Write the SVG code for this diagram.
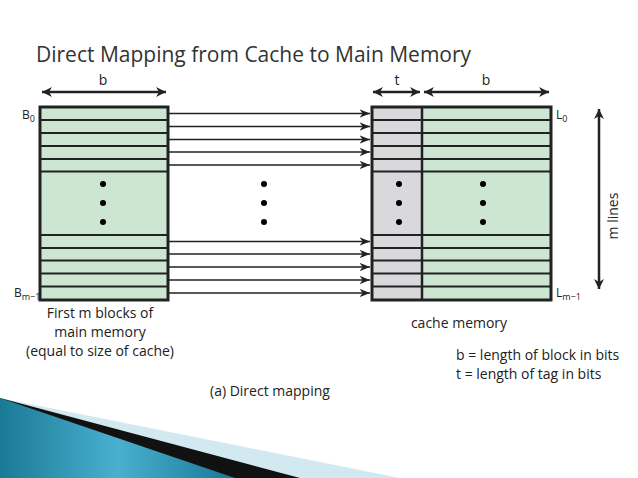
<svg xmlns="http://www.w3.org/2000/svg" width="638" height="478" viewBox="0 0 638 478">
<defs>
<marker id="ah" viewBox="0 0 10 10" refX="10" refY="5" markerWidth="7" markerHeight="7" orient="auto-start-reverse"><path d="M0,1 L10,5 L0,9 L3,5 Z" fill="#222"/></marker>
<marker id="big" viewBox="0 0 10 10" refX="10" refY="5" markerWidth="4" markerHeight="4" orient="auto-start-reverse"><path d="M0,0 L10,5 L0,10 L3,5 Z" fill="#222"/></marker>
<linearGradient id="g" x1="0" y1="0" x2="1" y2="0"><stop offset="0" stop-color="#1a7a96"/><stop offset="0.5" stop-color="#4ab0cf"/><stop offset="1" stop-color="#177896"/></linearGradient>
</defs>
<style>
text{font-family:"Open Sans","Liberation Sans",sans-serif;fill:#222}
.t{font-size:14px}
.row{stroke:#222;stroke-width:2}
.c{stroke:#222;stroke-width:1.5}
.dim{stroke:#222;stroke-width:2.5;fill:none}
</style>
<rect width="638" height="478" fill="#fff"/>
<text x="36" y="62" style="font-size:21px;fill:#333">Direct Mapping from Cache to Main Memory</text>
<g id="bg">
<polygon points="0,398 400,478 0,478" fill="#d3e9f2"/>
<polygon points="0,398 300,478 0,478" fill="#111"/>
<polygon points="0,398 235,478 0,478" fill="url(#g)"/>
</g>
<g id="main">
<rect x="40" y="107" width="128" height="193" fill="#cce6d2" stroke="#222" stroke-width="3"/>
<path class="row" d="M40,120H168M40,133H168M40,146H168M40,159H168M40,171.5H168M40,235H168M40,248H168M40,260.5H168M40,273.5H168M40,286.5H168"/>
<circle cx="103" cy="184" r="3"/><circle cx="103" cy="203" r="3"/><circle cx="103" cy="222" r="3"/>
<line class="dim" x1="42" y1="92" x2="166" y2="92" marker-start="url(#big)" marker-end="url(#big)"/>
<text x="103" y="85" class="t" text-anchor="middle">b</text>
<text x="22" y="119" class="t" style="font-size:12px">B<tspan dy="3" font-size="9">0</tspan></text>
<text x="14" y="297" class="t" style="font-size:12px">B<tspan dy="3" font-size="9">m−1</tspan></text>
<text x="100" y="318" class="t" text-anchor="middle">First m blocks of</text>
<text x="100" y="337" class="t" text-anchor="middle">main memory</text>
<text x="100" y="356" class="t" text-anchor="middle">(equal to size of cache)</text>
</g>
<g id="cache">
<rect x="372" y="107" width="50" height="193" fill="#d9d9dc"/>
<rect x="422" y="107" width="129" height="193" fill="#cce6d2"/>
<rect x="372" y="107" width="179" height="193" fill="none" stroke="#222" stroke-width="3"/>
<line x1="422" y1="107" x2="422" y2="300" stroke="#222" stroke-width="2.5"/>
<path class="row" d="M372,120H551M372,133H551M372,146H551M372,159H551M372,171.5H551M372,235H551M372,248H551M372,260.5H551M372,273.5H551M372,286.5H551"/>
<circle cx="399" cy="184" r="3"/><circle cx="399" cy="203" r="3"/><circle cx="399" cy="222" r="3"/>
<circle cx="483" cy="184" r="3"/><circle cx="483" cy="203" r="3"/><circle cx="483" cy="222" r="3"/>
<line class="dim" x1="373" y1="92" x2="420" y2="92" marker-start="url(#big)" marker-end="url(#big)"/>
<line class="dim" x1="424" y1="92" x2="549" y2="92" marker-start="url(#big)" marker-end="url(#big)"/>
<text x="397" y="85" class="t" text-anchor="middle">t</text>
<text x="486" y="85" class="t" text-anchor="middle">b</text>
<text x="556" y="119" class="t" style="font-size:12px">L<tspan dy="3" font-size="9">0</tspan></text>
<text x="556" y="297" class="t" style="font-size:12px">L<tspan dy="3" font-size="9">m−1</tspan></text>
<text x="459" y="328" class="t" text-anchor="middle">cache memory</text>
<line class="dim" x1="599" y1="109" x2="599" y2="289" marker-start="url(#big)" marker-end="url(#big)"/>
<text transform="translate(618,216) rotate(-90)" class="t" text-anchor="middle">m lines</text>
</g>
<g id="connectors">
<g class="c" marker-end="url(#ah)">
<line x1="168" y1="113.5" x2="370" y2="113.5"/><line x1="168" y1="126.5" x2="370" y2="126.5"/><line x1="168" y1="139.5" x2="370" y2="139.5"/><line x1="168" y1="152" x2="370" y2="152"/><line x1="168" y1="165" x2="370" y2="165"/>
<line x1="168" y1="241.5" x2="370" y2="241.5"/><line x1="168" y1="254" x2="370" y2="254"/><line x1="168" y1="267" x2="370" y2="267"/><line x1="168" y1="280" x2="370" y2="280"/><line x1="168" y1="293" x2="370" y2="293"/>
</g>
<circle cx="264" cy="184" r="3"/><circle cx="264" cy="203" r="3"/><circle cx="264" cy="222" r="3"/>
</g>
<text x="456" y="360" class="t">b = length of block in bits</text>
<text x="456" y="379" class="t">t = length of tag in bits</text>
<text x="210" y="396" class="t">(a) Direct mapping</text>
</svg>
